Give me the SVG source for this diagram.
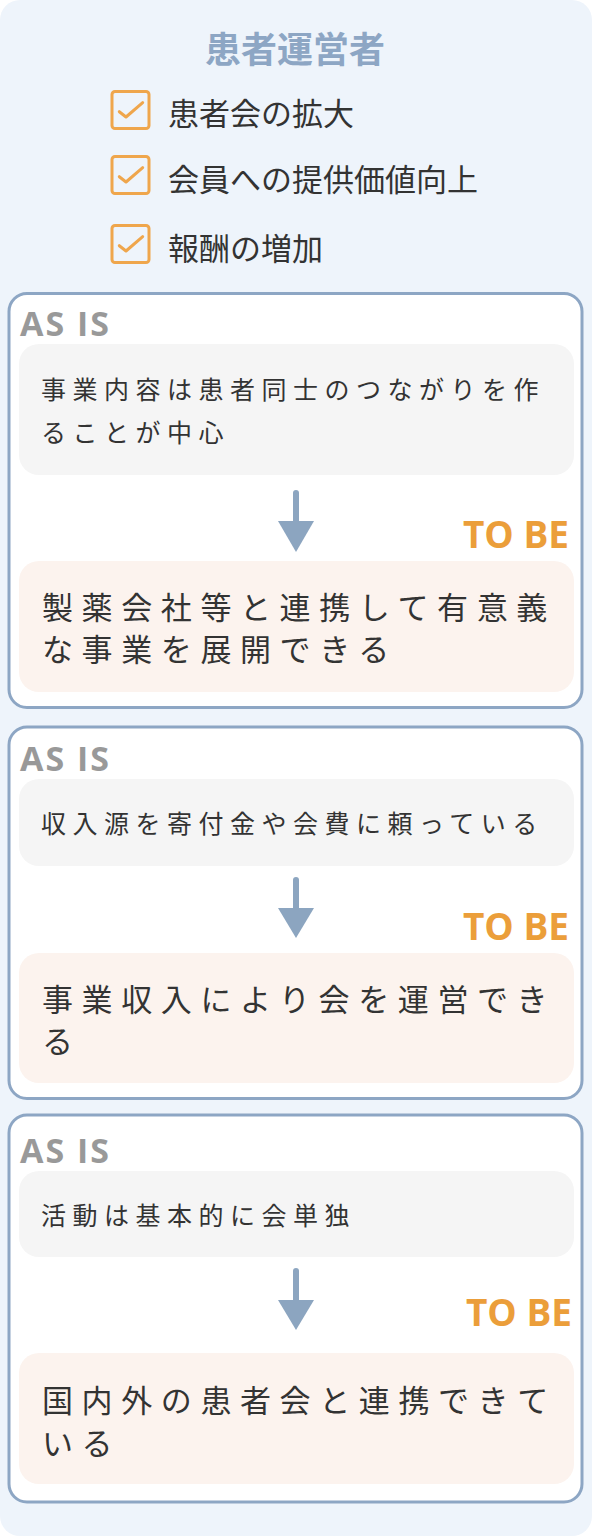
<svg xmlns="http://www.w3.org/2000/svg" width="592" height="1536" viewBox="0 0 592 1536">
<style>
.jp{font-family:"Noto Sans CJK JP","Noto Sans CJK SC",sans-serif;}
.title{font-size:36px;font-weight:700;fill:#8DA6C4;}
.item{font-size:31px;fill:#333;}
.card{fill:#FFFFFF;stroke:#8DA6C4;stroke-width:3;}
.asis{fill:#F5F5F5;}
.tobe{fill:#FCF3EE;}
.lab-as{font-family:"Open Sans","Noto Sans",sans-serif;font-weight:700;font-size:34px;fill:#999999;letter-spacing:2px;}
.lab-to{font-family:"Open Sans","Noto Sans",sans-serif;font-weight:700;font-size:37px;fill:#EB9E3A;}
.t1{font-size:25px;fill:#333;letter-spacing:6.5px;}
.t2{font-size:31px;fill:#333;letter-spacing:8.6px;}
.cb{fill:none;stroke:#EFA64C;stroke-width:3;}
.arr{fill:#8CA5C0;}
.shaft{stroke:#8CA5C0;stroke-width:6;stroke-linecap:round;}
</style>
<rect x="0" y="0" width="592" height="1536" rx="20" fill="#EEF4FB"/>
<g id="header">
<text class="jp title" x="295" y="63" text-anchor="middle">患者運営者</text>
</g>
<g id="check1">
<rect class="cb" x="112" y="91.5" width="37" height="37" rx="3"/>
<polyline class="cb" points="119.3,111.7 126,117 142.7,102.7" stroke-linecap="round" stroke-linejoin="round"/>
<text class="jp item" x="168" y="124.5">患者会の拡大</text>
</g>
<g id="check2">
<rect class="cb" x="112" y="156.5" width="37" height="37" rx="3"/>
<polyline class="cb" points="119.3,176.7 126,182 142.7,167.7" stroke-linecap="round" stroke-linejoin="round"/>
<text class="jp item" x="168" y="191">会員への提供価値向上</text>
</g>
<g id="check3">
<rect class="cb" x="112" y="225.5" width="37" height="37" rx="3"/>
<polyline class="cb" points="119.3,245.7 126,251 142.7,236.7" stroke-linecap="round" stroke-linejoin="round"/>
<text class="jp item" x="168" y="260">報酬の増加</text>
</g>

<g id="card1">
<rect class="card" x="9" y="293.5" width="573" height="414" rx="18"/>
<text class="lab-as" x="20" y="336">AS IS</text>
<rect class="asis" x="19" y="344" width="555" height="131" rx="20"/>
<text class="jp t1" x="41" y="398.5">事業内容は患者同士のつながりを作</text>
<text class="jp t1" x="41" y="441.5">ることが中心</text>
<text class="lab-to" x="569" y="548" text-anchor="end">TO BE</text>
<rect class="tobe" x="19" y="561" width="555" height="131" rx="20"/>
<text class="jp t2" x="42" y="619">製薬会社等と連携して有意義</text>
<text class="jp t2" x="42" y="661">な事業を展開できる</text>
</g>

<g id="card2">
<rect class="card" x="9" y="727" width="573" height="371.5" rx="18"/>
<text class="lab-as" x="20" y="771">AS IS</text>
<rect class="asis" x="19" y="779" width="555" height="87" rx="20"/>
<text class="jp t1" x="41" y="833">収入源を寄付金や会費に頼っている</text>
<text class="lab-to" x="569" y="940" text-anchor="end">TO BE</text>
<rect class="tobe" x="19" y="953" width="555" height="130" rx="20"/>
<text class="jp t2" x="42" y="1010.5">事業収入により会を運営でき</text>
<text class="jp t2" x="42" y="1052.5">る</text>
</g>

<g id="card3">
<rect class="card" x="9" y="1115" width="573" height="387" rx="18"/>
<text class="lab-as" x="20" y="1163">AS IS</text>
<rect class="asis" x="19" y="1171" width="555" height="86" rx="20"/>
<text class="jp t1" x="41" y="1225">活動は基本的に会単独</text>
<text class="lab-to" x="572" y="1326" text-anchor="end">TO BE</text>
<rect class="tobe" x="19" y="1353" width="555" height="131" rx="20"/>
<text class="jp t2" x="42" y="1411.5">国内外の患者会と連携できて</text>
<text class="jp t2" x="42" y="1454.5">いる</text>
</g>

<g id="connectors">
<line class="shaft" x1="296" y1="493" x2="296" y2="524"/>
<polygon class="arr" points="278,521 314,521 296,552"/>
<line class="shaft" x1="296" y1="880" x2="296" y2="911"/>
<polygon class="arr" points="278,908 314,908 296,938"/>
<line class="shaft" x1="296" y1="1271" x2="296" y2="1302"/>
<polygon class="arr" points="278,1300 314,1300 296,1330"/>
</g>
</svg>
